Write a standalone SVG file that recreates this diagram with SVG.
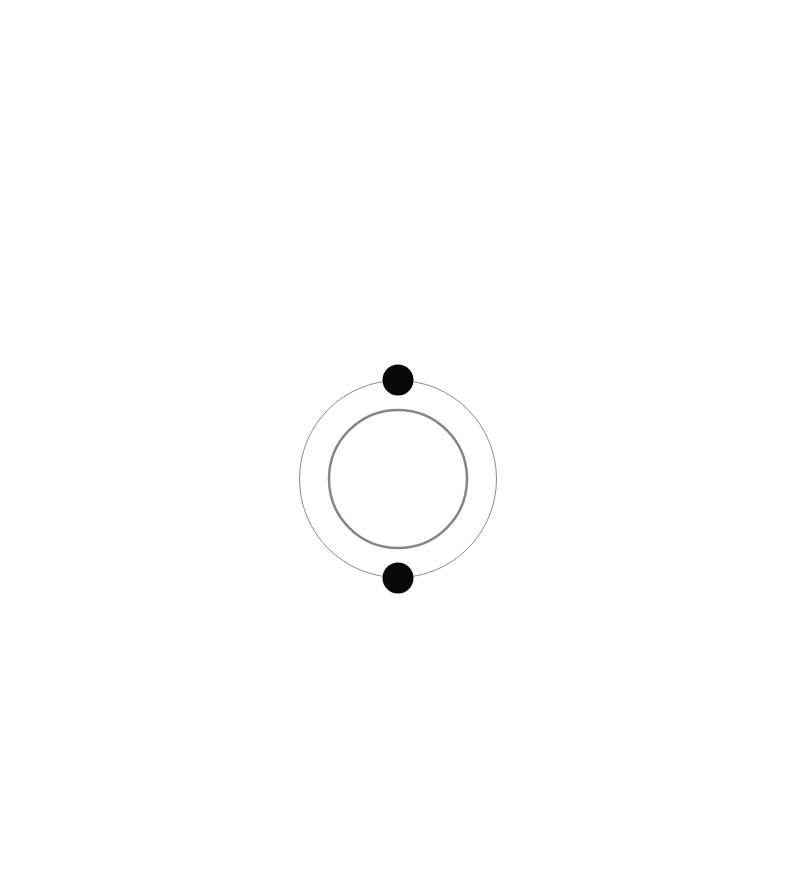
<svg xmlns="http://www.w3.org/2000/svg" width="800" height="877" viewBox="0 0 800 877">
<style>
.dot{fill:#040807}
</style>
<rect width="800" height="877" fill="#ffffff"/>
<g id="orbit">
<circle cx="398" cy="479" r="98.5" fill="none" stroke="#8f8a88" stroke-width="1"/>
</g>
<g id="core">
<circle cx="398" cy="479" r="69" fill="none" stroke="#8c847f" stroke-width="2.5"/>
</g>
<g id="dot-top"><circle class="dot" cx="398" cy="380" r="15.5"/></g>
<g id="dot-bottom"><circle class="dot" cx="398" cy="578" r="15.5"/></g>
</svg>
